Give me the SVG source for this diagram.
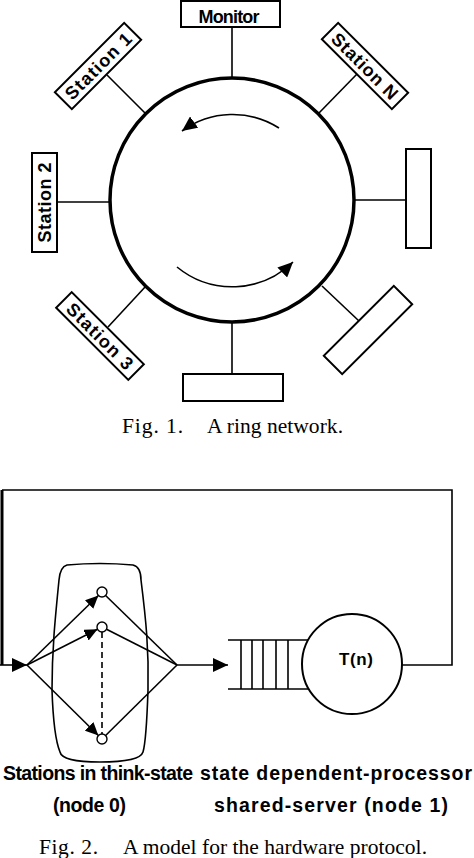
<svg xmlns="http://www.w3.org/2000/svg" width="474" height="858" viewBox="0 0 474 858">
<style>
.ln{stroke:#000;stroke-width:1.6;fill:none}
.bx{stroke:#000;stroke-width:2;fill:#fff}
.lb{font-family:"Liberation Sans",Arial,sans-serif;font-weight:bold;font-size:18px;fill:#000}
.lb2{font-family:"Liberation Sans",Arial,sans-serif;font-weight:bold;font-size:19.5px;fill:#000}
.tn{font-family:"Liberation Sans",Arial,sans-serif;font-weight:bold;font-size:17px;fill:#000}
.cap{font-family:"Liberation Serif","Times New Roman",serif;font-size:21.5px;fill:#000}
.nd{stroke:#000;stroke-width:1.4;fill:#fff}
</style>
<defs>
<marker id="ah" markerUnits="userSpaceOnUse" markerWidth="16" markerHeight="14" refX="15" refY="7" orient="auto"><path d="M0,0 L15,7 L0,14 Z" fill="#000"/></marker>
<marker id="as" markerUnits="userSpaceOnUse" markerWidth="14" markerHeight="12" refX="13" refY="6" orient="auto"><path d="M0,0 L13,6 L0,12 Z" fill="#000"/></marker>
</defs>
<rect width="474" height="858" fill="#fff"/>

<!-- Fig 1 -->
<g id="connectors-fig1">
<line class="ln" x1="232" y1="27" x2="232" y2="78"/>
<line class="ln" x1="107" y1="75" x2="146" y2="114"/>
<line class="ln" x1="357" y1="74" x2="318" y2="114"/>
<line class="ln" x1="57" y1="202" x2="110" y2="202"/>
<line class="ln" x1="355" y1="200" x2="406" y2="200"/>
<line class="ln" x1="108" y1="327" x2="146" y2="286"/>
<line class="ln" x1="322" y1="286" x2="359" y2="321"/>
<line class="ln" x1="232" y1="323" x2="232" y2="374"/>
<path class="ln" d="M279,128 A86,86 0 0 0 182,131" marker-end="url(#ah)"/>
<path class="ln" d="M177,267 A87,87 0 0 0 293,262" marker-end="url(#ah)"/>
</g>
<g id="ring"><circle cx="232" cy="200" r="122" fill="none" stroke="#000" stroke-width="3.5"/></g>
<g id="monitor"><rect class="bx" x="181" y="1" width="99" height="26"/><text class="lb" x="229" y="23" text-anchor="middle" textLength="61">Monitor</text></g>
<g id="station1" transform="translate(98,66) rotate(-45)"><rect class="bx" x="-49" y="-12" width="98" height="24"/><text class="lb" x="0" y="6.5" text-anchor="middle" textLength="86">Station 1</text></g>
<g id="stationN" transform="translate(365,66) rotate(45)"><rect class="bx" x="-49.5" y="-11.5" width="99" height="23"/><text class="lb" x="0" y="6.5" text-anchor="middle" textLength="86">Station N</text></g>
<g id="station2" transform="translate(44.5,202.5) rotate(-90)"><rect class="bx" x="-49.5" y="-12.5" width="99" height="25"/><text class="lb" x="0" y="6.5" text-anchor="middle" textLength="80">Station 2</text></g>
<g id="station3" transform="translate(100,336) rotate(45)"><rect class="bx" x="-51" y="-11" width="102" height="22"/><text class="lb" x="0" y="6.5" text-anchor="middle" textLength="86">Station 3</text></g>
<g id="stationE"><rect class="bx" x="406" y="149" width="25" height="99"/></g>
<g id="stationSE" transform="translate(368,330) rotate(-45)"><rect class="bx" x="-49.5" y="-13" width="99" height="26"/></g>
<g id="stationS"><rect class="bx" x="183" y="374" width="100" height="27"/></g>
<g id="caption1"><text class="cap" x="122" y="433" textLength="61">Fig. 1.</text><text class="cap" x="207" y="433" textLength="136">A ring network.</text></g>

<!-- Fig 2 -->
<g id="connectors-fig2">
<polyline class="ln" points="402,665 452,665 452,490 2,490"/>
<line x1="2" y1="490" x2="2" y2="665" stroke="#000" stroke-width="3"/>
<line class="ln" x1="0" y1="665" x2="27" y2="665" marker-end="url(#ah)"/>
<line class="ln" x1="27" y1="665" x2="98.4" y2="595.5" marker-end="url(#as)"/>
<line class="ln" x1="27" y1="665" x2="97.5" y2="629.3" marker-end="url(#as)"/>
<line class="ln" x1="27" y1="665" x2="98.4" y2="735.5" marker-end="url(#as)"/>
<line class="ln" x1="105.6" y1="595.5" x2="177" y2="665"/>
<line class="ln" x1="106.5" y1="629.3" x2="177" y2="665"/>
<line class="ln" x1="105.6" y1="735.5" x2="177" y2="665"/>
<line class="ln" x1="102" y1="632" x2="102" y2="734" stroke-dasharray="6,4"/>
<line class="ln" x1="177" y1="665" x2="228" y2="665" marker-end="url(#ah)"/>
</g>
<g id="node0">
<path class="ln" d="M67,565 Q100,562 133,565 Q141,567 141,580 C146,620 149,650 148,690 C147,720 146,742 143,752 Q140,762 100,762 Q62,762 60,752 C55,740 53,720 52,690 C52,650 55,620 59,580 Q60,567 67,565 Z"/>
<circle class="nd" cx="102" cy="592" r="5"/>
<circle class="nd" cx="102" cy="627" r="5"/>
<circle class="nd" cx="102" cy="739" r="5"/>
</g>
<g id="node1">
<line class="ln" x1="228" y1="640" x2="308" y2="640"/>
<line class="ln" x1="228" y1="689" x2="309" y2="689"/>
<line class="ln" x1="241" y1="640" x2="241" y2="689"/>
<line class="ln" x1="252" y1="640" x2="252" y2="689"/>
<line class="ln" x1="263" y1="640" x2="263" y2="689"/>
<line class="ln" x1="276" y1="640" x2="276" y2="689"/>
<line class="ln" x1="288" y1="640" x2="288" y2="689"/>
<circle cx="352" cy="664" r="50" fill="#fff" stroke="#000" stroke-width="2"/>
<text class="tn" x="356" y="665" text-anchor="middle" textLength="34">T(n)</text>
</g>
<g id="labels">
<text class="lb2" x="98" y="780" text-anchor="middle" textLength="190">Stations in think-state</text>
<text class="lb2" x="89.5" y="812" text-anchor="middle" textLength="73">(node 0)</text>
<text class="lb2" x="336" y="780" text-anchor="middle" textLength="272">state dependent-processor</text>
<text class="lb2" x="331" y="812" text-anchor="middle" textLength="234">shared-server (node 1)</text>
</g>
<g id="caption2"><text class="cap" x="39" y="854" textLength="59">Fig. 2.</text><text class="cap" x="123" y="854" textLength="304">A model for the hardware protocol.</text></g>
</svg>
